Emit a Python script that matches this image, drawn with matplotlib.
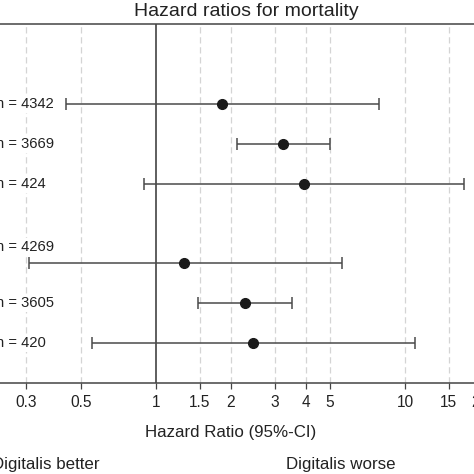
import numpy as np
import matplotlib
matplotlib.use("Agg")
from matplotlib import pyplot as plt
from matplotlib import transforms

plt.rcParams['font.family'] = ['Liberation Sans', 'DejaVu Sans']

# data (hazard ratio with 95%-CI)
labels = ["n = 4342", "n = 3669", "n = 424", "n = 4269", "n = 3605", "n = 420"]
hr = [1.84, 3.24, 3.94, 1.30, 2.27, 2.46]
lower = [0.435, 2.11, 0.898, 0.308, 1.47, 0.553]
upper = [7.86, 4.98, 17.3, 5.57, 3.52, 11.0]
rows = [7, 6, 5, 3, 2, 1]
label_rows = [7, 6, 5, 3.42, 2, 1]
ticks = [0.3, 0.5, 1, 1.5, 2, 3, 4, 5, 10, 15, 20]
tick_labels = ["0.3", "0.5", "1", "1.5", "2", "3", "4", "5", "10", "15", "20"]

W = 474.0
fig = plt.figure(figsize=(4.74, 4.74), dpi=100)
# the axes run past the picture on both sides, like the cropped original
ax = fig.add_axes([-18 / W, 91 / W, 498 / W, 359 / W])
ax.set_xscale("log")
ax.set_xlim(0.2, 20)
ax.set_ylim(0, 9)

for t in ticks:
    if t != 1:
        ax.axvline(t, color="#d4d4d4", lw=0.9, ls=(0, (5, 3)), zorder=0)
ax.axvline(1, color="#333333", lw=1.1, zorder=1)

hr = np.array(hr)
err = np.array([hr - np.array(lower), np.array(upper) - hr])
ax.errorbar(hr, rows, xerr=err, fmt="o", color="#1a1a1a", ecolor="#4a4a4a",
            elinewidth=1.1, capsize=4.2, capthick=1.1, markersize=7, zorder=3)

ax.set_xticks(ticks)
ax.set_xticklabels(tick_labels)
ax.minorticks_off()
ax.set_yticks([])
ax.tick_params(axis="x", length=4.5, width=0.9, color="#444444",
               labelsize=11.2, labelcolor="#222222", pad=4)
for s in ["left", "right"]:
    ax.spines[s].set_visible(False)
for s in ["top", "bottom"]:
    ax.spines[s].set_color("#444444")
    ax.spines[s].set_linewidth(1.1)

tr = transforms.blended_transform_factory(fig.transFigure, ax.transData)
for lab, yy in zip(labels, label_rows):
    ax.text(-4 / W, yy, lab, transform=tr, ha="left", va="center",
            fontsize=10.6, color="#222222", zorder=2,
            bbox=dict(facecolor="white", edgecolor="none", pad=1.5))

fig.text(246 / W, 1 - 11 / W, "Hazard ratios for mortality", ha="center",
         va="center", fontsize=14, color="#222222")
fig.text(231 / W, 1 - 433 / W, "Hazard Ratio (95%-CI)", ha="center",
         va="center", fontsize=12.2, color="#222222")
fig.text(100 / W, 1 - 464 / W, "Digitalis better", ha="right",
         va="center", fontsize=12.2, color="#222222")
fig.text(341 / W, 1 - 464 / W, "Digitalis worse", ha="center",
         va="center", fontsize=12.2, color="#222222")

fig.savefig("out.png", dpi=100)
